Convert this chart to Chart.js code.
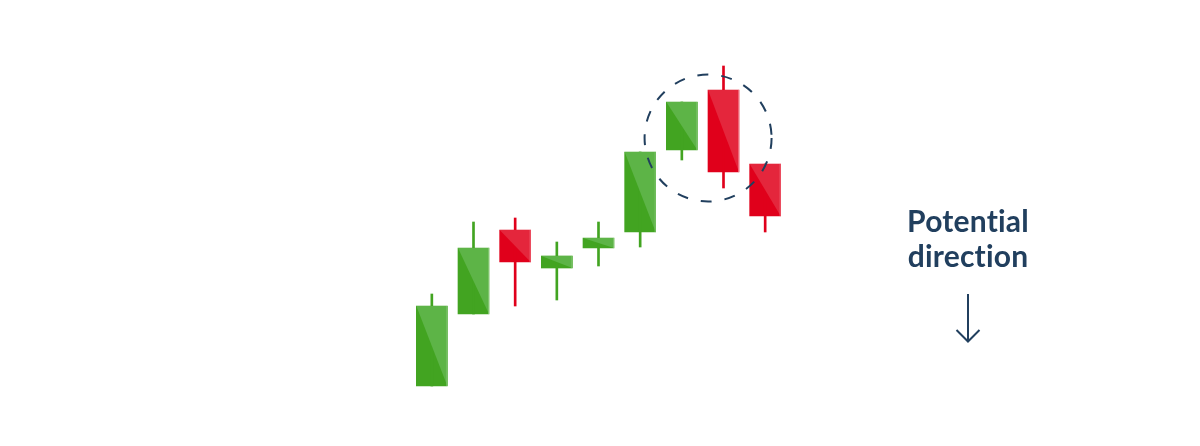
<!DOCTYPE html>
<html>
<head>
<meta charset="utf-8">
<script src="https://cdn.jsdelivr.net/npm/chart.js@4"></script>
<style>
  html, body { margin: 0; padding: 0; background: #fff; }
  #wrap { width: 1200px; height: 446px; position: relative; }
</style>
</head>
<body>
<div id="wrap"><canvas id="candles"></canvas></div>
<script>
// candle data (price units)
var labels = ['1', '2', '3', '4', '5', '6', '7', '8', '9'];
var opens  = [30, 66, 108, 89, 99, 107, 148, 178, 141];
var closes = [70, 99, 92, 95, 104, 147, 172, 137, 115];
var highs  = [76, 112, 114, 102, 112, 147, 172, 190, 141];
var lows   = [30, 66, 70, 73, 90, 99.5, 143, 129, 107];

var textLines = ['Potential', 'direction'];

var GREEN = '#42a421', GREEN_LIGHT = '#5db447';
var RED = '#e0001b', RED_LIGHT = '#e4263c';
var NAVY = '#213f5e';

function isUp(i) { return closes[i] >= opens[i]; }

var wicks = [], bodies = [], dark = [];
for (let i = 0; i < labels.length; i++)
{
    wicks.push([lows[i], highs[i]]);
    bodies.push([opens[i], closes[i]]);
    dark.push(isUp(i) ? GREEN : RED);
}

// light diagonal half of each body, circle, text and arrow
var decor = {
    id: 'decor',
    afterDatasetsDraw: function(chart)
    {
        var ctx = chart.ctx;
        var meta = chart.getDatasetMeta(1);
        meta.data.forEach(function(bar, i)
        {
            var l = bar.x - bar.width / 2, r = bar.x + bar.width / 2;
            var t = Math.min(bar.y, bar.base), b = Math.max(bar.y, bar.base);
            ctx.save();
            ctx.fillStyle = isUp(i) ? GREEN_LIGHT : RED_LIGHT;
            ctx.beginPath();
            ctx.moveTo(l, t);
            ctx.lineTo(r, t);
            ctx.lineTo(r, b);
            ctx.closePath();
            ctx.fill();
            ctx.fillStyle = isUp(i) ? '#7ec46c' : '#ef6676';
            ctx.fillRect(r - 1, t, 1, b - t);
            ctx.restore();
        });

        var xs = chart.scales.x, ys = chart.scales.y;

        // dashed circle round candles 7 and 8
        var cx = xs.getPixelForValue(6.63);
        var cy = ys.getPixelForValue(154);
        var rad = ys.getPixelForValue(0) - ys.getPixelForValue(31.75);
        ctx.save();
        ctx.strokeStyle = NAVY;
        ctx.lineWidth = 2;
        ctx.setLineDash([11, 13]);
        ctx.beginPath();
        ctx.arc(cx, cy, rad, 0, Math.PI * 2);
        ctx.stroke();
        ctx.restore();

        // label
        var tx = 968;
        ctx.save();
        ctx.fillStyle = NAVY;
        ctx.font = '700 30px Lato';
        ctx.letterSpacing = '0.2px';   // also stops the "ti" ligature
        ctx.textAlign = 'center';
        ctx.textBaseline = 'alphabetic';
        ctx.fillText(textLines[0], tx, 232);
        ctx.fillText(textLines[1], tx, 267);

        // arrow down
        ctx.strokeStyle = NAVY;
        ctx.lineWidth = 2;
        ctx.beginPath();
        ctx.moveTo(tx, 294);
        ctx.lineTo(tx, 341);
        ctx.moveTo(tx - 11.5, 330);
        ctx.lineTo(tx, 341.5);
        ctx.lineTo(tx + 11.5, 330);
        ctx.stroke();
        ctx.restore();
    }
};

var chart_ctx = document.getElementById('candles').getContext('2d');
var candle_chart = new Chart(chart_ctx,
{
    type: 'bar',
    data:
    {
        labels: labels,
        datasets:
        [
            {
                data: wicks,
                backgroundColor: dark,
                barThickness: 2,
                grouped: false,
                borderWidth: 0
            },
            {
                data: bodies,
                backgroundColor: dark,
                barThickness: 31,
                grouped: false,
                borderWidth: 0
            }
        ]
    },
    options:
    {
        responsive: true,
        maintainAspectRatio: false,
        animation: false,
        layout: { padding: { left: 411, right: 414, top: 0, bottom: 0 } },
        plugins: {
            legend: { display: false },
            tooltip: { enabled: false }
        },
        scales: {
            x: { display: false },
            y: { display: false, min: 0, max: 223 }
        }
    },
    plugins: [decor]
});
</script>
</body>
</html>
